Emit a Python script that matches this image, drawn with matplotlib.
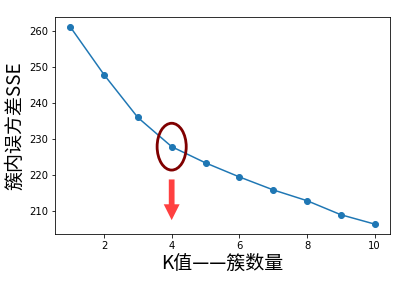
import matplotlib
matplotlib.use("Agg")
from matplotlib import pyplot as plt
from matplotlib.patches import Ellipse

plt.rcParams['font.family'] = ['DejaVu Sans', 'Noto Sans CJK SC']
plt.rcParams['axes.unicode_minus'] = False

k_values = [1, 2, 3, 4, 5, 6, 7, 8, 9, 10]
sse = [261.3, 248.0, 236.1, 228.0, 223.5, 219.6, 216.0, 213.0, 209.1, 206.5]

elbow_k = 4
elbow_sse = 228.0

fig = plt.figure(figsize=(410 / 72, 291 / 72), dpi=72)
ax = fig.add_axes([0.134, 0.196, 0.817, 0.746])

ax.plot(k_values, sse, marker='o', color='#1f77b4', markersize=6, linewidth=1.5)

# circle the elbow point
ax.add_patch(Ellipse((elbow_k, elbow_sse), width=0.86, height=13,
                     fill=False, edgecolor='#800000', linewidth=2.8, zorder=3))
# arrow under it
ax.arrow(elbow_k, 218.9, 0, -11.3, width=0.17, head_width=0.47,
         head_length=4.4, length_includes_head=True,
         color='#ff4040', linewidth=0, zorder=3)

ax.set_xticks([2, 4, 6, 8, 10])
cjk = ['Noto Sans CJK SC', 'DejaVu Sans']
ax.set_xlabel("K值——簇数量", fontsize=19, family=cjk, labelpad=2)
ax.set_ylabel("簇内误方差SSE", fontsize=19, family=cjk, labelpad=4)
ax.tick_params(labelsize=10)

fig.savefig("out.png", dpi=72)
